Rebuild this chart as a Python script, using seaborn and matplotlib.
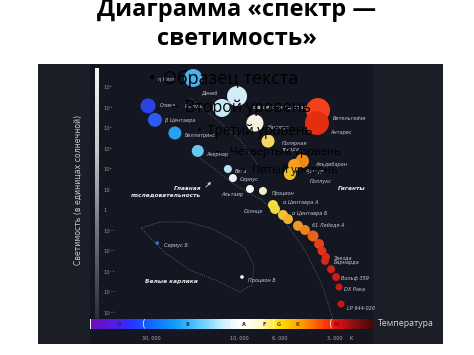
import numpy as np
import pandas as pd
import matplotlib
matplotlib.use("Agg")
import matplotlib.pyplot as plt
import seaborn as sns
from matplotlib.colors import LinearSegmentedColormap
from matplotlib.ticker import NullLocator

# stars: name, temperature (K), luminosity (L_sun)
star_names = ["η Киля", "Денеб", "Ригель", "Спика", "β Центавра", "Беллатрикс",
              "Ахернар", "Вега", "Сириус", "Альтаир", "Канопус", "Полярная\nзвезда",
              "Бетельгейзе", "Антарес", "Альдебаран", "Арктур", "Поллукс", "Процион",
              "Солнце", "α Центавра А", "α Центавра Б", "", "61 Лебедя А", "", "",
              "", "", "Звезда\nБарнарда", "", "", "Вольф 359", "DX Рака", "LP 944-020",
              "Сириус Б", "Процион Б"]
temps = [17800, 10250, 12400, 31400, 28800, 22400, 16800, 11500, 10800, 8710,
         8180, 6940, 3700, 3750, 4530, 5000, 5270, 7400, 6520, 6360,
         5750, 5400, 4760, 4360, 3940, 3650, 3520, 3350, 3390, 3140,
         2950, 2840, 2770, 28000, 9630]
lums = [2.75e6, 3.6e5, 9.5e4, 1.2e5, 2.5e4, 5700, 760, 100, 36, 10.6,
        17500, 2300, 7.5e4, 1.75e4, 245, 157, 57, 8.5, 1.75, 1.12,
        0.57, 0.36, 0.17, 0.106, 0.054, 0.022, 0.010, 0.0051, 0.0033, 0.0013,
        5.4e-4, 1.75e-4, 2.6e-5, 0.0245, 5.4e-4]

# dotted region outlines (temperature, luminosity)
ms_line_t = [16340, 10520, 7485, 5607, 4358, 3519, 2989]
ms_line_l = [344, 16.6, 3.08, 0.26, 0.0112, 2.19e-4, 2.45e-6]
upper_line_t = [18530, 13520, 9875, 7875]
upper_line_l = [2.9e5, 3.07e4, 2600, 157]
wd_loop_t = [34310, 25380, 18530, 13520, 9875, 8490, 8280, 9270, 11200, 14400, 19000, 27020, 34310]
wd_loop_l = [0.132, 7.98e-3, 1.18e-3, 3.85e-4, 1e-4, 2.19e-4, 2.07e-3, 0.014, 0.043, 0.132, 0.26, 0.26, 0.132]

lum_ticks = [1e6, 1e5, 1e4, 1e3, 1e2, 10, 1, 1e-1, 1e-2, 1e-3, 1e-4, 1e-5]
lum_tick_labels = ["10⁶", "10⁵", "10⁴", "10³", "10²", "10", "1",
                   "10⁻¹", "10⁻²", "10⁻³", "10⁻⁴", "10⁻⁵"]
temp_ticks = [30000, 10000, 6000, 3000]
temp_tick_labels = ["30, 000", "10, 000", "6, 000", "3, 000"]
class_letters = ["O", "B", "A", "F", "G", "K", "M"]
class_temps = [45300, 19200, 9390, 7300, 6040, 4820, 2950]
class_bounds = [33500, 11060, 6520, 3180]

# styles
star_radius_px = [9, 10, 9, 7.5, 7, 6.5, 6, 4, 4, 4,
                  8.5, 6.5, 12, 12, 7, 6, 6, 4, 5, 5,
                  5, 5, 5, 5, 5.5, 5, 4.5, 4, 4, 4,
                  4, 3.5, 3.5, 1.8, 1.8]
star_colors = ['#4ab2ea', '#d4ecf8', '#c4eaf8', '#2844e6', '#2a5cf0', '#27a0ee', '#66c8f0', '#b4e4f2', '#f0f4f6', '#f6f6f2',
               '#f5f3e0', '#f3da66', '#f2421c', '#e42e12', '#f08a16', '#f4a01e', '#efbf2a', '#f3eccb', '#f7de3e', '#f5d83c',
               '#f2c434', '#f0b22e', '#ee9a26', '#eb8420', '#e9621a', '#e64018', '#e03218', '#da2a18', '#d62818', '#d22218',
               '#ce1c18', '#ca1a18', '#c61616', '#3a6ee0', '#ffffff']
label_offsets = [(-17, 2, 'right'), (-19, -3, 'right'), (-19, -1, 'right'), (12, 0, 'left'), (10, 1, 'left'),
                 (10, 2, 'left'), (8, 4, 'left'), (7, 2, 'left'), (7, 1, 'left'), (-7, 6, 'right'),
                 (13, 4, 'left'), (14, 5, 'left'), (15, 8, 'left'), (13, 9, 'left'), (13, 3, 'left'),
                 (11, 7, 'left'), (20, 7, 'left'), (9, 3, 'left'), (-10, 6, 'right'), (8, -6, 'left'),
                 (9, -2, 'left'), None, (14, -1, 'left'), None, None,
                 None, None, (8, 3, 'left'), None, None,
                 (5, 2, 'left'), (5, 2, 'left'), (6, 5, 'left'), (7, 2, 'left'), (6, 4, 'left')]

W, H = 474, 355


def fx(px):
    return px / W


def fy(py):
    return 1 - py / H


def t_at(px):
    # log temperature scale: 10000 K at x=239 px, 183 px per decade
    return 10 ** (4 + (239 - px) / 183)


def l_at(py):
    return 10 ** ((210 - py) / 20.5)


sns.set_theme(style="dark")
plt.rcParams['font.family'] = ['DejaVu Sans']

fig = plt.figure(figsize=(W / 100, H / 100), dpi=100, facecolor='white')

# dark picture panel
bg = fig.add_axes([fx(38), fy(344), 405 / W, 280 / H])
bg.set_facecolor('#1c1e27')
bg.set_xticks([]); bg.set_yticks([])
for s in bg.spines.values():
    s.set_visible(False)

ax = fig.add_axes([fx(90), fy(344), 283 / W, 280 / H])
ax.set_facecolor('#141722')
ax.set_xscale('log')
ax.set_yscale('log')

dot = dict(color='#6c6f86', lw=0.6, ls=(0, (1, 1.6)), zorder=1)
ax.plot(ms_line_t, ms_line_l, **dot)
ax.plot(upper_line_t, upper_line_l, **dot)
ax.plot(wd_loop_t, wd_loop_l, **dot)

star_ids = [f"s{i}" for i in range(len(star_names))]
df = pd.DataFrame({'star': star_ids, 'temp': temps, 'lum': lums})
sns.scatterplot(data=df, x='temp', y='lum', hue='star', size='star',
                palette=dict(zip(star_ids, star_colors)),
                sizes=dict(zip(star_ids, [(1.44 * r) ** 2 for r in star_radius_px])),
                linewidth=0, legend=False, ax=ax, zorder=3)

for name, t, l, off in zip(star_names, temps, lums, label_offsets):
    if off is None:
        continue
    dx, dy, ha = off
    ax.annotate(name, (t, l), xytext=(dx * 0.72, -dy * 0.72), textcoords='offset points',
                ha=ha, va='center', fontsize=3.6, style='italic', color='#c9ccd6',
                linespacing=1.0, zorder=4)

ax.set_xlim(t_at(90), t_at(373))
ax.set_ylim(l_at(344), l_at(64))
ax.set_xlabel(''); ax.set_ylabel('')
ax.set_xticks([])
ax.xaxis.set_minor_locator(NullLocator())
ax.set_yticks(lum_ticks)
ax.set_yticklabels(lum_tick_labels)
ax.yaxis.set_minor_locator(NullLocator())
ax.tick_params(axis='y', length=0, pad=-9.4, labelsize=3.8, labelcolor='#8e909c')
for lbl in ax.get_yticklabels():
    lbl.set_horizontalalignment('left')
for s in ax.spines.values():
    s.set_visible(False)

# luminosity gradient bar
gax = fig.add_axes([fx(95), fy(320), 4 / W, 252 / H])
gcmap = LinearSegmentedColormap.from_list('g', ['#2c2e37', '#6c6e78', '#c4c5ca', '#f8f8f8'])
gax.imshow(np.linspace(1, 0, 256)[:, None], cmap=gcmap, aspect='auto')
gax.set_axis_off()

# spectrum bar
bax = fig.add_axes([fx(90), fy(329), 283 / W, 10 / H])
spec = LinearSegmentedColormap.from_list('spec', [
    (0.0, '#6a10b8'), (0.07, '#5a18e0'), (0.14, '#2a30ff'), (0.2, '#1060ff'),
    (0.3, '#10a0ff'), (0.4, '#70d0ff'), (0.47, '#d0f0ff'), (0.53, '#ffffff'),
    (0.6, '#fff8d0'), (0.67, '#ffe000'), (0.75, '#ff9a00'), (0.82, '#ff4a00'),
    (0.87, '#e81010'), (0.93, '#901010'), (1.0, '#4a0808')])
bax.set_xscale('log')
edges = np.geomspace(t_at(91), t_at(373), 300)
bax.pcolormesh(edges, [0, 1], np.linspace(0, 1, 299)[None, :], cmap=spec, shading='flat')
bax.set_xlim(t_at(90), t_at(373))
bax.set_ylim(0, 1)
bax.set_yticks([])
bax.set_xticks(temp_ticks)
bax.set_xticklabels(temp_tick_labels)
bax.xaxis.set_minor_locator(NullLocator())
bax.tick_params(axis='x', length=0, pad=4.7, labelsize=3.5, labelcolor='#a8a9b2')
for s in bax.spines.values():
    s.set_visible(False)
letter_colors = ['#2a1a90', '#1a3a80', '#222222', '#333333', '#444444', '#603000', '#8a0a0a']
for letter, t, c in zip(class_letters, class_temps, letter_colors):
    bax.text(t, 0.5, letter, ha='center', va='center', fontsize=3.6, fontweight='bold', color=c)
for t in class_bounds:
    bax.text(t, 0.5, '(', ha='center', va='center', fontsize=7, color='white', alpha=0.85)
fig.text(fx(351), fy(338), 'K', ha='center', va='center', fontsize=3.8, color='#a8a9b2')

# axis titles
fig.text(fx(78), fy(190), 'Светимость (в единицах солнечной)', rotation=90,
         ha='center', va='center', fontsize=5.6, color='#c8c9d0')
fig.text(fx(378), fy(324), 'Температура', ha='left', va='center',
         fontsize=6.3, color='#d4d5da', family='Open Sans')

# group labels
grp = dict(fontsize=4.2, fontweight='bold', style='italic', color='#e8e8ec')
fig.text(fx(201), fy(188), 'Главная', ha='right', va='center', **grp)
fig.text(fx(201), fy(195), 'последовательность', ha='right', va='center', **grp)
fig.text(fx(338), fy(188), 'Гиганты', ha='left', va='center', **grp)
fig.text(fx(145), fy(282), 'Белые карлики', ha='left', va='center', **grp)
fig.text(fx(253), fy(108), 'С В Е Р Х Г И Г А Н Т Ы', ha='left', va='center',
         fontsize=3.0, fontweight='bold', color='#dcdce2')
ax.annotate('', xy=(213, H - 180), xytext=(204, H - 189), xycoords='figure pixels',
            textcoords='figure pixels',
            arrowprops=dict(arrowstyle='-|>', color='#cfd0d6', lw=0.6, mutation_scale=4))

# slide title
title_kw = dict(ha='center', va='baseline', fontsize=17, fontweight='bold',
                color='black', family='Open Sans')
fig.text(0.5, fy(16), 'Диаграмма «спектр —', **title_kw)
fig.text(0.5, fy(45), 'светимость»', **title_kw)

# placeholder text of the slide template (drawn over the picture)
ph = dict(ha='left', va='center', color='black', family='Open Sans')
fig.text(fx(148), fy(79), '•', fontsize=13, **ph)
fig.text(fx(163), fy(79), 'Образец текста', fontsize=13, **ph)
fig.text(fx(170), fy(108), '–', fontsize=11.4, **ph)
fig.text(fx(185), fy(108), 'Второй уровень', fontsize=11.4, **ph)
fig.text(fx(197), fy(132), '•', fontsize=9.8, **ph)
fig.text(fx(207), fy(132), 'Третий уровень', fontsize=9.8, **ph)
fig.text(fx(215), fy(152), '–', fontsize=8.2, **ph)
fig.text(fx(230), fy(152), 'Четвертый уровень', fontsize=8.2, **ph)
fig.text(fx(240), fy(170), '»', fontsize=8.2, **ph)
fig.text(fx(252), fy(170), 'Пятый уровень', fontsize=8.2, **ph)

fig.savefig('out.png', dpi=100, facecolor='white')
